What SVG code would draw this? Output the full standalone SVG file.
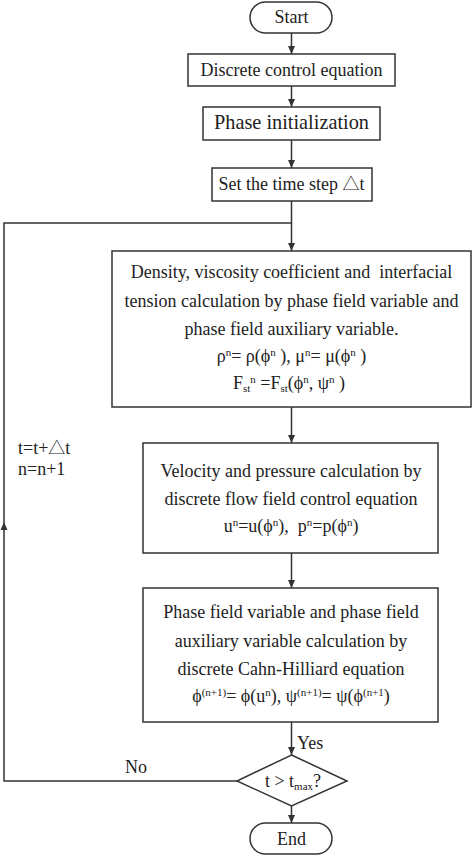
<svg xmlns="http://www.w3.org/2000/svg" width="474" height="858" viewBox="0 0 474 858">
<style>
  .box { fill: #fff; stroke: #333; stroke-width: 1.5; }
  .ln { fill: none; stroke: #333; stroke-width: 1.5; }
  text { font-family: "Liberation Serif", "Times New Roman", serif; font-size: 18px; fill: #222; }
  .tri { font-family: "Noto Sans CJK SC", "DejaVu Sans", sans-serif; font-size: 17px; }
  .c { text-anchor: middle; }
  .sup { font-size: 11px; baseline-shift: 6px; }
  .sub { font-size: 11px; baseline-shift: -3px; }
</style>
<defs>
  <marker id="ah" markerUnits="userSpaceOnUse" markerWidth="8" markerHeight="8" refX="8" refY="4" orient="auto">
    <path d="M0,0.5 L8,4 L0,7.5 z" fill="#333"/>
  </marker>
</defs>
<rect width="474" height="858" fill="#fff"/>
<g id="connectors">
  <line class="ln" x1="291.5" y1="33" x2="291.5" y2="54" marker-end="url(#ah)"/>
  <line class="ln" x1="291.5" y1="86" x2="291.5" y2="107" marker-end="url(#ah)"/>
  <line class="ln" x1="291.5" y1="140" x2="291.5" y2="168" marker-end="url(#ah)"/>
  <line class="ln" x1="291.5" y1="201" x2="291.5" y2="251" marker-end="url(#ah)"/>
  <line class="ln" x1="291.5" y1="407" x2="291.5" y2="443" marker-end="url(#ah)"/>
  <line class="ln" x1="291.5" y1="553" x2="291.5" y2="588" marker-end="url(#ah)"/>
  <line class="ln" x1="291.5" y1="722" x2="291.5" y2="755" marker-end="url(#ah)"/>
  <line class="ln" x1="291.5" y1="806" x2="291.5" y2="823" marker-end="url(#ah)"/>
  <path class="ln" d="M237,781 L4,781 L4,522" marker-end="url(#ah)"/>
  <path class="ln" d="M4,522 L4,223 L291.5,223"/>
  <text x="297" y="749">Yes</text>
  <text x="125" y="773">No</text>
  <text x="18" y="454">t=t+<tspan class="tri">△</tspan>t</text>
  <text x="18" y="475">n=n+1</text>
</g>
<g id="start">
  <rect class="box" x="250" y="2" width="82" height="31" rx="15.5"/>
  <text class="c" x="291.5" y="23">Start</text>
</g>
<g id="discrete">
  <rect class="box" x="188" y="54" width="207" height="32"/>
  <text class="c" x="291.5" y="76">Discrete control equation</text>
</g>
<g id="phaseinit">
  <rect class="box" x="203" y="107" width="177" height="33"/>
  <text class="c" x="291.5" y="129" style="font-size:20.3px">Phase initialization</text>
</g>
<g id="timestep">
  <rect class="box" x="212" y="168" width="160" height="33"/>
  <text class="c" x="291.5" y="190">Set the time step <tspan class="tri">△</tspan>t</text>
</g>
<g id="density">
  <rect class="box" x="112" y="251" width="359" height="156"/>
  <text class="c" x="291.5" y="278" xml:space="preserve">Density, viscosity coefficient and  interfacial</text>
  <text class="c" x="291.5" y="307">tension calculation by phase field variable and</text>
  <text class="c" x="291.5" y="335">phase field auxiliary variable.</text>
  <text class="c" x="291.5" y="362">ρ<tspan class="sup">n</tspan>= ρ(ϕ<tspan class="sup">n</tspan> ), μ<tspan class="sup">n</tspan>= μ(ϕ<tspan class="sup">n</tspan> )</text>
  <text class="c" x="289" y="389">F<tspan class="sub">st</tspan><tspan class="sup">n</tspan> =F<tspan class="sub">st</tspan>(ϕ<tspan class="sup">n</tspan>, ψ<tspan class="sup">n</tspan> )</text>
</g>
<g id="velocity">
  <rect class="box" x="143" y="443" width="295" height="110"/>
  <text class="c" x="291" y="477">Velocity and pressure calculation by</text>
  <text class="c" x="291" y="505">discrete flow field control equation</text>
  <text class="c" x="291" y="532" xml:space="preserve">u<tspan class="sup">n</tspan>=u(ϕ<tspan class="sup">n</tspan>),  p<tspan class="sup">n</tspan>=p(ϕ<tspan class="sup">n</tspan>)</text>
</g>
<g id="cahnhilliard">
  <rect class="box" x="143" y="588" width="295" height="134"/>
  <text class="c" x="291" y="618">Phase field variable and phase field</text>
  <text class="c" x="291" y="647">auxiliary variable calculation by</text>
  <text class="c" x="291" y="675">discrete Cahn-Hilliard equation</text>
  <text class="c" x="291" y="702">ϕ<tspan class="sup">(n+1)</tspan>= ϕ(u<tspan class="sup">n</tspan>), ψ<tspan class="sup">(n+1)</tspan>= ψ(ϕ<tspan class="sup">(n+1</tspan>)</text>
</g>
<g id="decision">
  <polygon class="box" points="291.5,755 347,781 291.5,806 237,781"/>
  <text class="c" x="293" y="787">t &gt; t<tspan class="sub">max</tspan>?</text>
</g>
<g id="end">
  <rect class="box" x="250" y="823" width="82" height="31" rx="15.5"/>
  <text class="c" x="291.5" y="845">End</text>
</g>
</svg>
